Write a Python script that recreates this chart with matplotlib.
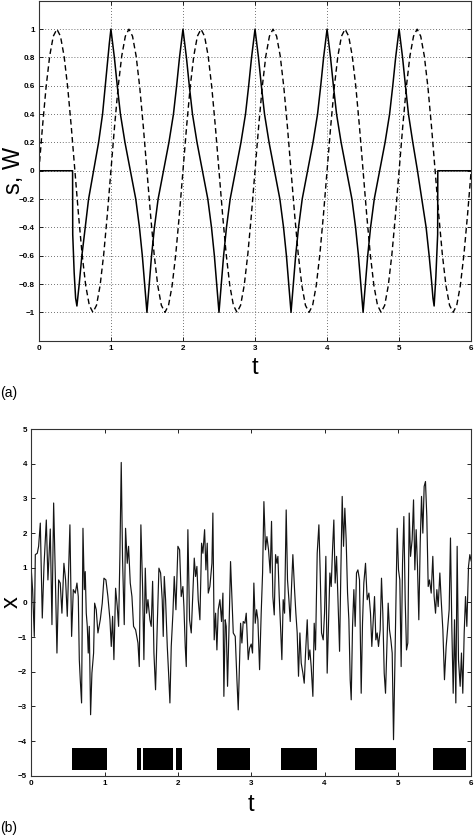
import numpy as np
import matplotlib
matplotlib.use("Agg")
import matplotlib.pyplot as plt
from matplotlib.ticker import FuncFormatter

plt.rcParams['font.family'] = ['Liberation Sans', 'DejaVu Sans']

# ---- panel (a): s (dashed) sampled every 0.05 in t ----
s_t = np.linspace(0, 6, 121)
s_vals = [
    0, 0.31, 0.59, 0.81, 0.95, 1, 0.95, 0.81, 0.59, 0.31, 0, -0.31, -0.59, -0.81, -0.95, -1, -0.95, -0.81, -0.59, -0.31,
    0, 0.31, 0.59, 0.81, 0.95, 1, 0.95, 0.81, 0.59, 0.31, 0, -0.31, -0.59, -0.81, -0.95, -1, -0.95, -0.81, -0.59, -0.31,
    0, 0.31, 0.59, 0.81, 0.95, 1, 0.95, 0.81, 0.59, 0.31, 0, -0.31, -0.59, -0.81, -0.95, -1, -0.95, -0.81, -0.59, -0.31,
    0, 0.31, 0.59, 0.81, 0.95, 1, 0.95, 0.81, 0.59, 0.31, 0, -0.31, -0.59, -0.81, -0.95, -1, -0.95, -0.81, -0.59, -0.31,
    0, 0.31, 0.59, 0.81, 0.95, 1, 0.95, 0.81, 0.59, 0.31, 0, -0.31, -0.59, -0.81, -0.95, -1, -0.95, -0.81, -0.59, -0.31,
    0, 0.31, 0.59, 0.81, 0.95, 1, 0.95, 0.81, 0.59, 0.31, 0, -0.31, -0.59, -0.81, -0.95, -1, -0.95, -0.81, -0.59, -0.31,
    0]

# W (solid) vertices
w_t = [0, 0.468, 0.470, 0.49, 0.51, 0.528,
       0.56, 0.597, 0.644, 0.69, 0.759, 0.829, 0.884, 0.921, 0.958, 0.978, 1.0,
       1.024, 1.048, 1.088, 1.132, 1.195, 1.27, 1.345, 1.396, 1.436, 1.469, 1.484, 1.5,
       1.516, 1.531, 1.564, 1.604, 1.655, 1.73, 1.805, 1.868, 1.912, 1.952, 1.976, 2.0,
       2.024, 2.048, 2.088, 2.132, 2.195, 2.27, 2.345, 2.396, 2.436, 2.469, 2.484, 2.5,
       2.516, 2.531, 2.564, 2.604, 2.655, 2.73, 2.805, 2.868, 2.912, 2.952, 2.976, 3.0,
       3.024, 3.048, 3.088, 3.132, 3.195, 3.27, 3.345, 3.396, 3.436, 3.469, 3.484, 3.5,
       3.516, 3.531, 3.564, 3.604, 3.655, 3.73, 3.805, 3.868, 3.912, 3.952, 3.976, 4.0,
       4.024, 4.048, 4.088, 4.132, 4.195, 4.27, 4.345, 4.396, 4.436, 4.469, 4.484, 4.5,
       4.516, 4.531, 4.564, 4.604, 4.655, 4.73, 4.805, 4.868, 4.912, 4.952, 4.976, 5.0,
       5.024, 5.048, 5.088, 5.13, 5.19, 5.255, 5.315, 5.375, 5.417, 5.454, 5.47, 5.486,
       5.51, 5.535, 5.537, 6.0]
w_vals = [0, 0, -0.45, -0.72, -0.9, -0.955,
          -0.8, -0.6, -0.4, -0.2, 0, 0.2, 0.4, 0.6, 0.8, 0.9, 1,
          0.9, 0.8, 0.6, 0.4, 0.2, 0, -0.2, -0.4, -0.6, -0.8, -0.9, -1,
          -0.9, -0.8, -0.6, -0.4, -0.2, 0, 0.2, 0.4, 0.6, 0.8, 0.9, 1,
          0.9, 0.8, 0.6, 0.4, 0.2, 0, -0.2, -0.4, -0.6, -0.8, -0.9, -1,
          -0.9, -0.8, -0.6, -0.4, -0.2, 0, 0.2, 0.4, 0.6, 0.8, 0.9, 1,
          0.9, 0.8, 0.6, 0.4, 0.2, 0, -0.2, -0.4, -0.6, -0.8, -0.9, -1,
          -0.9, -0.8, -0.6, -0.4, -0.2, 0, 0.2, 0.4, 0.6, 0.8, 0.9, 1,
          0.9, 0.8, 0.6, 0.4, 0.2, 0, -0.2, -0.4, -0.6, -0.8, -0.9, -1,
          -0.9, -0.8, -0.6, -0.4, -0.2, 0, 0.2, 0.4, 0.6, 0.8, 0.9, 1,
          0.9, 0.8, 0.6, 0.4, 0.2, 0, -0.2, -0.4, -0.6, -0.8, -0.9, -0.955,
          -0.75, -0.45, 0, 0]

# ---- panel (b): noisy signal x(t) ----
x_t = [0, 0.018, 0.041, 0.055, 0.082, 0.10, 0.123, 0.15, 0.173, 0.205,
       0.227, 0.259, 0.282, 0.305, 0.327, 0.35, 0.373, 0.395, 0.418, 0.445,
       0.468, 0.491, 0.527, 0.55, 0.573, 0.60, 0.623, 0.641, 0.655, 0.668,
       0.686, 0.705, 0.723, 0.736, 0.75, 0.764, 0.777, 0.791, 0.809, 0.827,
       0.85, 0.864, 0.886, 0.909, 0.941, 0.968, 0.991, 1.018, 1.045, 1.073,
       1.091, 1.109, 1.127, 1.15, 1.173, 1.191, 1.209, 1.227, 1.245, 1.268,
       1.286, 1.309, 1.327, 1.35, 1.373, 1.395, 1.423, 1.455, 1.473, 1.495,
       1.518, 1.536, 1.555, 1.573, 1.591, 1.618, 1.636, 1.655, 1.673, 1.695,
       1.718, 1.741, 1.764, 1.786, 1.80, 1.814, 1.832, 1.855, 1.873, 1.891,
       1.909, 1.932, 1.95, 1.973, 2.0, 2.023, 2.045, 2.068, 2.082, 2.10,
       2.114, 2.136, 2.159, 2.182, 2.20, 2.223, 2.241, 2.259, 2.277, 2.30,
       2.323, 2.341, 2.364, 2.382, 2.40, 2.414, 2.436, 2.464, 2.477, 2.495,
       2.514, 2.532, 2.55, 2.573, 2.595, 2.614, 2.627, 2.645, 2.659, 2.677,
       2.70, 2.718, 2.736, 2.755, 2.782, 2.805, 2.823, 2.836, 2.855, 2.873,
       2.891, 2.914, 2.932, 2.959, 2.977, 3.0,
       3.018, 3.036, 3.055, 3.073, 3.091, 3.114, 3.136, 3.155, 3.173, 3.195,
       3.214, 3.236, 3.259, 3.277, 3.295, 3.314, 3.332, 3.35, 3.364, 3.382,
       3.40, 3.418, 3.436, 3.455, 3.477, 3.495, 3.514, 3.532, 3.55, 3.568,
       3.591, 3.609, 3.627, 3.645, 3.664, 3.682, 3.705, 3.723, 3.741, 3.764,
       3.782, 3.80, 3.818, 3.841, 3.859, 3.877, 3.90, 3.923, 3.941, 3.959,
       3.982, 4.0, 4.018, 4.036, 4.055, 4.073, 4.091, 4.109, 4.127, 4.145,
       4.164, 4.182, 4.205, 4.223, 4.241, 4.259, 4.277, 4.295, 4.314, 4.332,
       4.35, 4.364, 4.382, 4.40, 4.418, 4.436, 4.455, 4.477, 4.50, 4.518,
       4.536, 4.559, 4.582, 4.605, 4.627, 4.645, 4.664, 4.682, 4.70, 4.718,
       4.736, 4.759, 4.777, 4.795, 4.814, 4.832, 4.85, 4.868, 4.886, 4.905,
       4.923, 4.941, 4.959, 4.977, 4.991, 5.009, 5.027, 5.045, 5.064, 5.082,
       5.10, 5.118, 5.136, 5.155, 5.173, 5.195, 5.214, 5.232, 5.25, 5.268,
       5.286, 5.305, 5.323, 5.341, 5.359, 5.377, 5.395, 5.414, 5.432, 5.455,
       5.477, 5.495, 5.514, 5.532, 5.55, 5.573, 5.591, 5.614, 5.636, 5.659,
       5.682, 5.70, 5.718, 5.736, 5.755, 5.773, 5.791, 5.809, 5.827, 5.85,
       5.868, 5.886, 5.905, 5.923, 5.941, 5.964, 5.982, 6.0]
x_vals = [0.94, 0.37, -0.98, 1.38, 1.42, 1.62, 2.29, -0.45, 1.04, 2.38,
          0.65, 2.12, -0.64, 2.87, 0.85, -1.46, 0.65, 0.56, -0.31, 1.13,
          0.65, -0.40, 2.24, -0.98, 0.37, 0.27, 0.56, 0.17, -1.65, -2.23,
          -2.90, 2.14, 0.37, 0.89, -0.31, -0.69, -1.46, -0.69, -3.24, -2.04,
          -1.46, -0.02, -0.21, -0.88, -0.50, -0.02, 0.70, 0.65, 0.17, -0.50,
          -1.27, -0.40, -1.65, 0.41, -0.12, -0.69, 1.38, 4.04, 1.23, -0.64,
          2.14, 1.13, 1.62, 0.56, 0.17, -0.69, -0.79, -1.17, -1.85, 2.24,
          0.46, -1.65, 0.99, -0.31, 0.08, -0.50, -0.69, 0.61, -1.46, -2.52,
          -0.69, 0.99, 0.85, 0.08, -0.98, 0.75, 0.08, -1.27, -2.04, -2.90,
          -1.27, -0.31, 0.75, -0.21, 1.62, 1.52, 0.17, 0.46, -0.12, -1.27,
          -1.85, 2.10, -0.50, -0.88, 0.08, 1.28, 0.75, 1.04, 0.08, -0.50,
          1.71, 1.42, 2.10, 0.94, 1.71, 0.27, 0.46, 1.13, 2.58, -1.08,
          -0.31, -1.37, -0.21, 0.08, -0.55, 0.27, -2.71, -0.50, -0.69, -2.42,
          -0.50, 1.18, 0.17, -0.88, -0.98, -2.23, -3.10, -2.04, -0.60, -1.17,
          -0.55, -0.60, -0.31, -1.65, -1.32, -1.20,
          -1.46, 0.56, -0.60, -0.21, -0.50, -1.94, -0.31, 0.85, 2.91, 1.52,
          1.90, 1.52, 0.85, 2.34, 0.17, -0.36, 1.38, 1.13, 1.33, 0.17,
          -0.69, -1.65, 0.08, -0.31, 2.67, 0.65, 0.08, -0.55, 0.46, 1.38,
          0.37, -0.31, -0.88, -2.13, -0.88, -1.75, -2.04, -2.33, -1.46, -0.50,
          -1.65, -1.37, -1.85, -2.71, -0.60, -1.37, 1.42, 2.24, 0.85, -0.88,
          -1.08, -0.31, 1.33, -2.04, -0.50, 0.85, 0.46, 1.52, 2.38, 0.56,
          1.33, 0.17, -1.41, 0.94, 3.06, 1.62, 2.72, 1.81, 0.27, -0.50,
          -2.23, -2.81, -0.69, 0.37, -0.69, 0.85, 0.94, 0.65, -2.62, -0.60,
          0.56, 1.13, 0.08, 0.27, -0.31, -1.27, -0.50, 0.17, -1.08, -0.88,
          -1.27, -0.79, 0.70, -0.31, -2.04, -2.62, -1.27, -0.02, -0.79, -1.08,
          -1.46, -3.96, -1.85, 0.46, 2.14, 0.94, 0.65, -1.85, 1.13, 2.48,
          0.08, -1.37, -1.17, 2.58, 1.33, 1.81, 2.96, 0.94, 2.10, 1.04,
          -0.50, 1.71, 3.06, 2.00, 3.35, 3.49, 2.48, 0.46, 0.65, 0.27,
          1.33, 0.17, -0.31, 0.37, -0.12, 0.85, 0.08, -0.79, -2.23, -1.27,
          -0.69, -0.21, 1.86, -0.69, -2.62, -0.50, -2.90, 1.62, -1.65, -2.42,
          -1.46, -2.62, -0.88, 0.17, -0.69, 1.04, 1.38, 1.20]

# black bars along the bottom of panel (b)
bar_start = [0.55, 1.44, 1.525, 1.98, 2.53, 3.41, 4.42, 5.48]
bar_end = [1.03, 1.50, 1.93, 2.05, 2.99, 3.90, 4.97, 5.93]
bar_low, bar_high = -4.83, -4.2

minus_fmt = FuncFormatter(lambda v, p: ('%g' % round(v, 2)).replace('-', '\u2212'))

fig = plt.figure(figsize=(4.74, 8.35), dpi=100)
ax1 = fig.add_axes([0.082, 0.592, 0.912, 0.407])
ax2 = fig.add_axes([0.066, 0.071, 0.928, 0.415])

# (a)
ax1.plot(s_t, s_vals, color='k', lw=1.0, linestyle=(0, (4, 2.5)))
ax1.plot(w_t, w_vals, color='k', lw=1.1)
ax1.set_xlim(0, 6)
ax1.set_ylim(-1.2, 1.2)
ax1.set_xticks(range(7))
ax1.set_yticks(np.linspace(-1, 1, 11))
ax1.yaxis.set_major_formatter(minus_fmt)
ax1.grid(True, color='#444444', linestyle=(0, (1, 2.5)), lw=0.6)
ax1.set_xlabel('t', fontsize=17)
ax1.set_ylabel('s, W', fontsize=17)
ax1.xaxis.set_label_coords(0.5, -0.079)
ax1.xaxis.label.set_va('center')
ax1.yaxis.set_label_coords(-0.058, 0.5)
ax1.yaxis.label.set_va('center')

# (b)
ax2.plot(x_t, x_vals, color='#151515', lw=0.85)
ax2.broken_barh([(a, b - a) for a, b in zip(bar_start, bar_end)],
                (bar_low, bar_high - bar_low), facecolor='k', edgecolor='none')
ax2.set_xlim(0, 6)
ax2.set_ylim(-5, 5)
ax2.set_xticks(range(7))
ax2.set_yticks(range(-5, 6))
ax2.yaxis.set_major_formatter(minus_fmt)
ax2.set_xlabel('t', fontsize=17)
ax2.set_ylabel('x', fontsize=17)
ax2.xaxis.set_label_coords(0.5, -0.084)
ax2.xaxis.label.set_va('center')
ax2.yaxis.set_label_coords(-0.044, 0.5)
ax2.yaxis.label.set_va('center')

for ax in (ax1, ax2):
    ax.tick_params(direction='in', top=True, right=True, length=3, width=0.6,
                   labelsize=5.8, pad=3, colors='k')
    for lab in ax.get_xticklabels() + ax.get_yticklabels():
        lab.set_fontweight('bold')
    for sp in ax.spines.values():
        sp.set_linewidth(0.8)
        sp.set_color('#333333')

fig.text(0.0, 0.529, '(a)', fontsize=10, ha='left', va='center')
fig.text(0.0, 0.008, '(b)', fontsize=10, ha='left', va='center')

fig.savefig('out.png', dpi=100)
